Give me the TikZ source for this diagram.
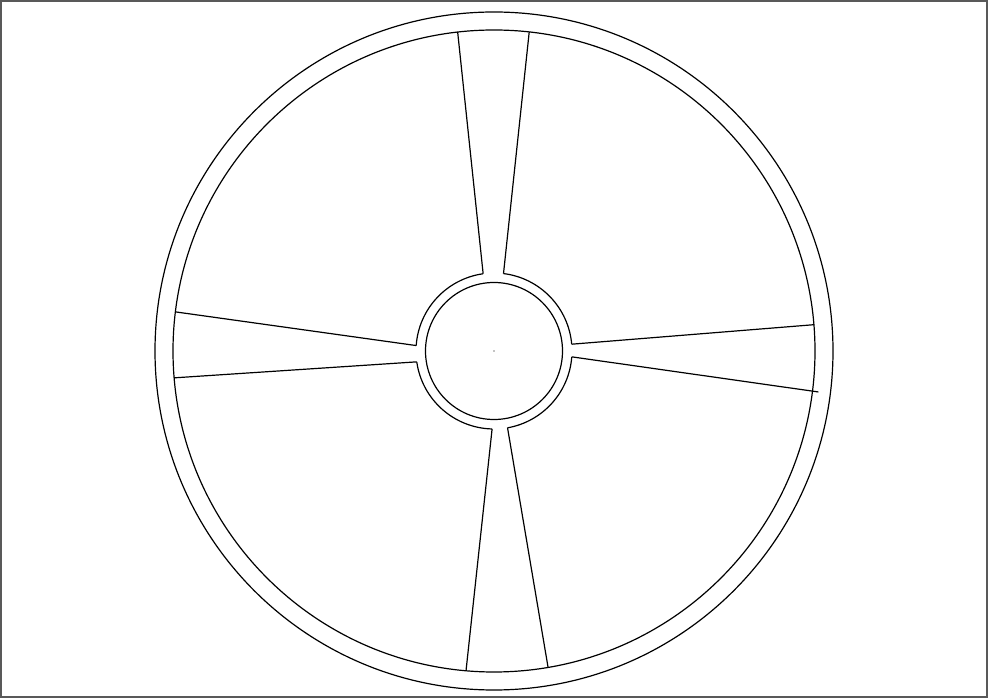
\documentclass[tikz,border=0pt]{standalone}
\usepackage{tikz}
\usetikzlibrary{calc}

\begin{document}
\begin{tikzpicture}[x=0.75pt, y=0.75pt, wheel/.style={line width=0.9pt, black}]
                  \useasboundingbox (0,0) rectangle (990,700);
                  % Frame
                  \draw[line width=1.5pt, black!65] (1,3) rectangle (987,699);
                  \coordinate (c) at (494,349);

                  % Rim
                  \draw[wheel] (c) circle (339);
                  \draw[wheel] (c) circle (321);

                  % Hub
                  \draw[wheel] (c) circle (68.5);
                  \foreach \a/\b in {5/83, 98/176, 188/268.6, 280/355.7}
                  \draw[wheel] ([shift={(c)}]\a:78) arc[start angle=\a, end angle=\b, radius=78];
                  \fill (c) circle (0.6);

                  % Spokes
                  \foreach \h/\r/\l in {98/96.5/321, 83/83.7/321, 176/173/321, 188/184.8/321,
                                        5/4.7/321, -4.3/-7.2/327, 268.6/265/321, 280/279.7/321}
                  \draw[wheel] ([shift={(c)}]\h:78) -- ([shift={(c)}]\r:\l);
              \end{tikzpicture}
\end{document}
